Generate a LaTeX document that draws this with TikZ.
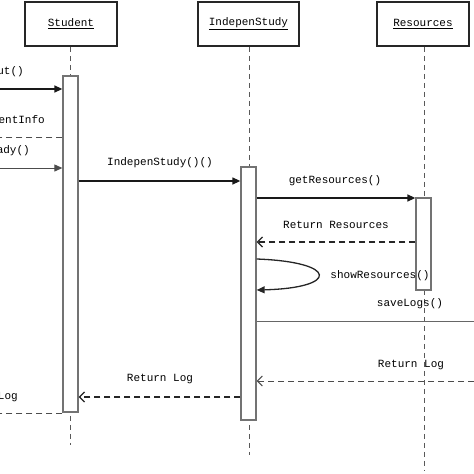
\documentclass[tikz,border=0pt]{standalone}
\usepackage{fontspec}
\setmonofont{Liberation Mono}
\usetikzlibrary{arrows.meta}
\begin{document}
\begin{tikzpicture}[x=1pt,y=-1pt,
  font=\ttfamily\fontsize{11}{13}\selectfont,
  objbox/.style={draw=black!85,line width=1.6pt,minimum height=44pt,inner sep=0pt},
  act/.style={draw=black!55,line width=1.3pt,fill=white,minimum width=15pt,inner sep=0pt},
  life/.style={draw=black!65,dash pattern=on 5pt off 4pt,line width=1pt},
  msg/.style={draw=black!90,line width=1.3pt,-{Triangle[length=8pt,width=7pt]}},
  ret/.style={draw=black!85,line width=1.3pt,dash pattern=on 6pt off 4pt,-{Straight Barb[length=5pt,width=10pt]}},
  plain/.style={draw=black!60,line width=1pt},
  lbl/.style={inner sep=0pt}]
\useasboundingbox (0,0) rectangle (474,474);
\clip (0,0) rectangle (474,474);

% objects
\node[objbox,minimum width=92pt] (S) at (71,24) {\underline{Student}};
\node[objbox,minimum width=101pt] (I) at (248.5,24) {\underline{IndepenStudy}};
\node[objbox,minimum width=92pt] (R) at (423,24) {\underline{Resources}};

% lifelines
\coordinate (Send) at (70,445);
\coordinate (Iend) at (249,455);
\coordinate (Rend) at (424,470);
\draw[life] (S.south -| Send) -- (Send);
\draw[life] (I.south -| Iend) -- (Iend);
\draw[life] (R.south -| Rend) -- (Rend);

% activations
\node[act,minimum height=336pt] (aS) at (70.5,244) {};
\node[act,minimum height=253pt] (aI) at (248.5,293.5) {};
\node[act,minimum height=92pt] (aR) at (423.5,244) {};

% incoming from the left (cut off)
\coordinate (m1) at (0,89);
\coordinate (m2) at (0,137);
\coordinate (m3) at (0,168);
\coordinate (m4) at (0,413);
\draw[msg] (m1) -- (aS.west |- m1);
\draw[draw=black!70,line width=1pt,dash pattern=on 6pt off 4pt] (aS.west |- m2) -- (m2);
\draw[draw=black!70,line width=1pt,-{Triangle[length=8pt,width=7pt]}] (m3) -- (aS.west |- m3);
\draw[draw=black!70,line width=1pt,dash pattern=on 6pt off 4pt] (aS.west |- m4) -- (m4);
\node[lbl,anchor=east] (t1) at (24,72) {ut()};
\node[lbl,anchor=east] (t2) at (45,120) {entInfo};
\node[lbl,anchor=east] (t3) at (30,151) {ady()};
\node[lbl,anchor=east] (t4) at (18,397) {Log};

% Student -> IndepenStudy
\coordinate (y5) at (0,181);
\draw[msg] (aS.east |- y5) -- (aI.west |- y5);
\node[lbl] (t5) at (160,163) {IndepenStudy()()};

% IndepenStudy -> Resources
\coordinate (y6) at (0,198);
\draw[msg] (aI.east |- y6) -- (aR.west |- y6);
\node[lbl] (t6) at (335,181) {getResources()};

\coordinate (y7) at (0,242);
\draw[ret] (aR.west |- y7) -- (aI.east |- y7);
\node[lbl] (t7) at (336,225) {Return Resources};

% self call
\coordinate (y8a) at (0,259);
\coordinate (y8b) at (0,290);
\draw[draw=black!85,line width=1.3pt,-{Triangle[length=8pt,width=7pt]}]
  (aI.east |- y8a) .. controls (339,262) and (339,288) .. (aI.east |- y8b);
\node[lbl] (t8) at (380,276) {showResources()};

% saveLogs
\coordinate (y9) at (474,321);
\draw[plain] (aI.east |- y9) -- (y9);
\node[lbl] (t9) at (410,304) {saveLogs()};

\coordinate (y10) at (474,381);
\draw[draw=black!70,line width=1pt,dash pattern=on 6pt off 4pt,-{Straight Barb[length=5pt,width=10pt]}] (y10) -- (aI.east |- y10);
\node[lbl] (t10) at (411,365) {Return Log};

\coordinate (y11) at (0,397);
\draw[ret] (aI.west |- y11) -- (aS.east |- y11);
\node[lbl] (t11) at (160,379) {Return Log};
\end{tikzpicture}
\end{document}
